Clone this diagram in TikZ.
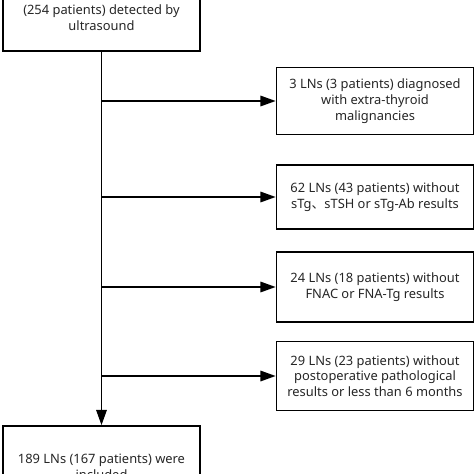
\documentclass[tikz,border=0pt]{standalone}
\usepackage{fontspec}
\setmainfont{Noto Sans}
\newfontfamily\cjk{Noto Sans CJK SC}
\usepackage{tikz}
\usetikzlibrary{arrows.meta, positioning}

\begin{document}
\begin{tikzpicture}[
    x=0.03cm, y=-0.03cm,
    fbox/.style={rectangle, draw=black, line width=1.5pt, minimum width=197*0.03cm,
      font=\fontsize{11}{13.4}\selectfont, text=black!85, inner sep=2pt, align=center},
    farr/.style={-{Triangle[length=13pt, width=9pt]}, line width=1.3pt}
  ]
  \clip (0,0) rectangle (474,474);
  \fill[white] (0,0) rectangle (474,474);

  \node[fbox, minimum height=66*0.03cm] (source) at (101.5,18) {(254 patients) detected by\\ultrasound};
  \node[fbox, minimum height=82*0.03cm] (result) at (101.5,467) {189 LNs (167 patients) were\\included};

  \node[fbox, minimum height=67*0.03cm] (excl1) at (375,101) {3 LNs (3 patients) diagnosed\\with extra-thyroid\\malignancies};
  \node[fbox, minimum height=64*0.03cm] (excl2) at (375,197) {62 LNs (43 patients) without\\sTg{\cjk 、}sTSH or sTg-Ab results};
  \node[fbox, minimum height=70*0.03cm] (excl3) at (375,287) {24 LNs (18 patients) without\\FNAC or FNA-Tg results};
  \node[fbox, minimum height=69*0.03cm] (excl4) at (375,376) {29 LNs (23 patients) without\\postoperative pathological\\results or less than 6 months};

  \draw[farr] (source) -- (result);
  \draw[farr] (source.south |- excl1.west) -- (excl1.west);
  \draw[farr] (source.south |- excl2.west) -- (excl2.west);
  \draw[farr] (source.south |- excl3.west) -- (excl3.west);
  \draw[farr] (source.south |- excl4.west) -- (excl4.west);
\end{tikzpicture}
\end{document}
